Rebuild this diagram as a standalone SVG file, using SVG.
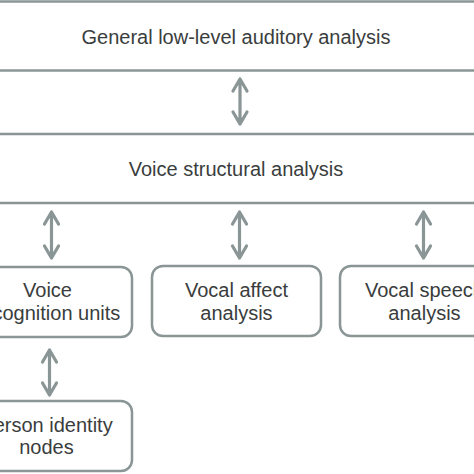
<svg xmlns="http://www.w3.org/2000/svg" width="474" height="474" viewBox="0 0 474 474">
<style>
.band{stroke:#8a9595;stroke-width:2.5;fill:none}
.box{stroke:#8a9595;stroke-width:2.5;fill:#fff}
.arr{stroke:#8a9595;stroke-width:3.2;fill:none;stroke-linecap:round;stroke-linejoin:round}
text{font-family:"Liberation Sans",Arial,sans-serif;font-size:20px;fill:#3a3d3d;text-anchor:middle}
</style>
<rect width="474" height="474" fill="#fff"/>
<g id="general">
<line class="band" x1="0" y1="1.5" x2="474" y2="1.5"/>
<line class="band" x1="0" y1="70.5" x2="474" y2="70.5"/>
<text x="236" y="44">General low-level auditory analysis</text>
</g>
<g id="structural">
<line class="band" x1="0" y1="134" x2="474" y2="134"/>
<line class="band" x1="0" y1="203" x2="474" y2="203"/>
<text x="236" y="176">Voice structural analysis</text>
</g>
<g id="recognition">
<rect class="box" x="-38" y="267" width="170" height="70" rx="11"/>
<text x="47.5" y="297">Voice</text>
<text x="47.5" y="320">recognition units</text>
</g>
<g id="affect">
<rect class="box" x="152" y="266" width="169" height="70" rx="11"/>
<text x="236.5" y="297">Vocal affect</text>
<text x="236.5" y="320">analysis</text>
</g>
<g id="speech">
<rect class="box" x="340" y="266" width="170" height="70" rx="11"/>
<text x="424.5" y="297">Vocal speech</text>
<text x="424.5" y="320">analysis</text>
</g>
<g id="person">
<rect class="box" x="-38" y="401" width="170" height="70" rx="11"/>
<text x="46.5" y="432">Person identity</text>
<text x="46.5" y="454">nodes</text>
</g>
<g id="connectors">
<path class="arr" d="M240 79V124M233 91L240 79L247 91M233 112L240 124L247 112"/>
<path class="arr" d="M51.5 212V258M44.5 224L51.5 212L58.5 224M44.5 246L51.5 258L58.5 246"/>
<path class="arr" d="M239.5 212V258M232.5 224L239.5 212L246.5 224M232.5 246L239.5 258L246.5 246"/>
<path class="arr" d="M423.5 212V258M416.5 224L423.5 212L430.5 224M416.5 246L423.5 258L430.5 246"/>
<path class="arr" d="M49.5 350V395M42.5 362L49.5 350L56.5 362M42.5 383L49.5 395L56.5 383"/>
</g>
</svg>
